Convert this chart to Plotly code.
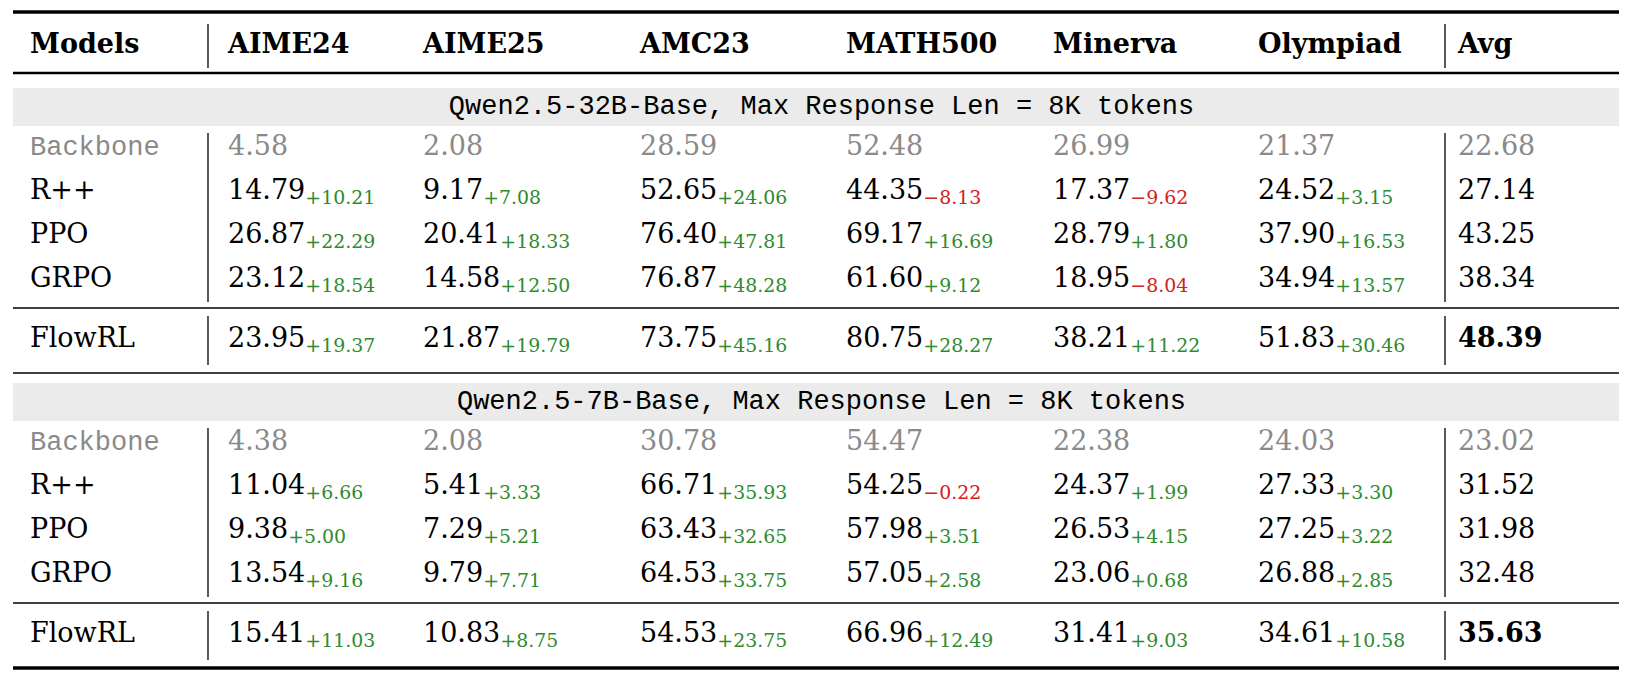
import plotly.graph_objects as go

benchmarks = ["AIME24", "AIME25", "AMC23", "MATH500", "Minerva", "Olympiad", "Avg"]
methods = ["R++", "PPO", "GRPO", "FlowRL"]

sec1_title = "Qwen2.5-32B-Base, Max Response Len = 8K tokens"
sec1_backbone = [4.58, 2.08, 28.59, 52.48, 26.99, 21.37, 22.68]
sec1_rpp = [14.79, 9.17, 52.65, 44.35, 17.37, 24.52, 27.14]
sec1_ppo = [26.87, 20.41, 76.40, 69.17, 28.79, 37.90, 43.25]
sec1_grpo = [23.12, 14.58, 76.87, 61.60, 18.95, 34.94, 38.34]
sec1_flowrl = [23.95, 21.87, 73.75, 80.75, 38.21, 51.83, 48.39]
sec1_rpp_gain = [10.21, 7.08, 24.06, -8.13, -9.62, 3.15]
sec1_ppo_gain = [22.29, 18.33, 47.81, 16.69, 1.80, 16.53]
sec1_grpo_gain = [18.54, 12.50, 48.28, 9.12, -8.04, 13.57]
sec1_flowrl_gain = [19.37, 19.79, 45.16, 28.27, 11.22, 30.46]

sec2_title = "Qwen2.5-7B-Base, Max Response Len = 8K tokens"
sec2_backbone = [4.38, 2.08, 30.78, 54.47, 22.38, 24.03, 23.02]
sec2_rpp = [11.04, 5.41, 66.71, 54.25, 24.37, 27.33, 31.52]
sec2_ppo = [9.38, 7.29, 63.43, 57.98, 26.53, 27.25, 31.98]
sec2_grpo = [13.54, 9.79, 64.53, 57.05, 23.06, 26.88, 32.48]
sec2_flowrl = [15.41, 10.83, 54.53, 66.96, 31.41, 34.61, 35.63]
sec2_rpp_gain = [6.66, 3.33, 35.93, -0.22, 1.99, 3.30]
sec2_ppo_gain = [5.00, 5.21, 32.65, 3.51, 4.15, 3.22]
sec2_grpo_gain = [9.16, 7.71, 33.75, 2.58, 0.68, 2.85]
sec2_flowrl_gain = [11.03, 8.75, 23.75, 12.49, 9.03, 10.58]

W, H = 1627, 683
SERIF = "DejaVu Serif"
MONO = "Liberation Mono"
GREEN = "#2e8b2e"
RED = "#d42020"
GRAY = "#8a8a8a"
FS = 27

col_x = [22, 220, 415, 632, 838, 1045, 1250, 1450]
div_x = [200, 1437]
left, right = 5, 1622
pitch = 44

fig = go.Figure()


def add_text(xs, ys, texts, font, pos="middle right"):
    fig.add_trace(go.Scatter(x=xs, y=ys, text=texts, mode="text",
                             textposition=pos, textfont=font,
                             hoverinfo="skip", showlegend=False))


def hline(y, w):
    fig.add_shape(type="line", x0=left, x1=right, y0=y, y1=y,
                  line=dict(color="black", width=w))


def vdivs(y0, y1):
    for x in div_x:
        fig.add_shape(type="line", x0=x, x1=x, y0=y0, y1=y1,
                      line=dict(color="black", width=1.3))


def row_texts(name, vals, gains, bold_avg=False):
    out = [name]
    for j, v in enumerate(vals):
        s = "%.2f" % v
        if j == 6:
            out.append("<b>%s</b>" % s if bold_avg else s)
            continue
        d = gains[j]
        if d < 0:
            s += "<sub><span style='color:%s'>\u2212%.2f</span></sub>" % (RED, -d)
        else:
            s += "<sub><span style='color:%s'>+%.2f</span></sub>" % (GREEN, d)
        out.append(s)
    return out


# header
add_text(col_x, [38] * 8, ["<b>%s</b>" % t for t in ["Models"] + benchmarks],
         dict(family=SERIF, size=FS, color="black"))
hline(4, 3.5)
hline(65, 2.5)
vdivs(16, 60)


def section(top, title, backbone, rows):
    fig.add_shape(type="rect", x0=left, x1=right, y0=top, y1=top + 38,
                  fillcolor="#ebebeb", line=dict(width=0), layer="below")
    add_text([(left + right) / 2], [top + 19], [title],
             dict(family=MONO, size=FS, color="black"), pos="middle center")
    y = top + 60
    add_text(col_x[:1], [y], ["Backbone"], dict(family=MONO, size=FS, color=GRAY))
    add_text(col_x[1:], [y] * 7, ["%.2f" % v for v in backbone],
             dict(family=SERIF, size=FS, color=GRAY))
    for i, (name, vals, gains) in enumerate(rows[:3]):
        yy = y + pitch * (i + 1)
        add_text(col_x, [yy] * 8, row_texts(name, vals, gains),
                 dict(family=SERIF, size=FS, color="black"))
    vdivs(top + 45, y + pitch * 3 + 22)
    line_y = y + pitch * 3 + 28
    hline(line_y, 1.3)
    name, vals, gains = rows[3]
    fy = line_y + 32
    add_text(col_x, [fy] * 8, row_texts(name, vals, gains, bold_avg=True),
             dict(family=SERIF, size=FS, color="black"))
    vdivs(line_y + 8, fy + 25)
    return fy + 33


end1 = section(80, sec1_title, sec1_backbone,
               list(zip(methods, [sec1_rpp, sec1_ppo, sec1_grpo, sec1_flowrl],
                        [sec1_rpp_gain, sec1_ppo_gain, sec1_grpo_gain, sec1_flowrl_gain])))
hline(end1, 1.3)
end2 = section(end1 + 10, sec2_title, sec2_backbone,
               list(zip(methods, [sec2_rpp, sec2_ppo, sec2_grpo, sec2_flowrl],
                        [sec2_rpp_gain, sec2_ppo_gain, sec2_grpo_gain, sec2_flowrl_gain])))
hline(end2, 3.5)

fig.update_layout(width=W, height=H, margin=dict(l=0, r=0, t=0, b=0),
                  plot_bgcolor="white", paper_bgcolor="white",
                  xaxis=dict(range=[0, W], visible=False),
                  yaxis=dict(range=[H, 0], visible=False))
fig.write_html("out.html")
